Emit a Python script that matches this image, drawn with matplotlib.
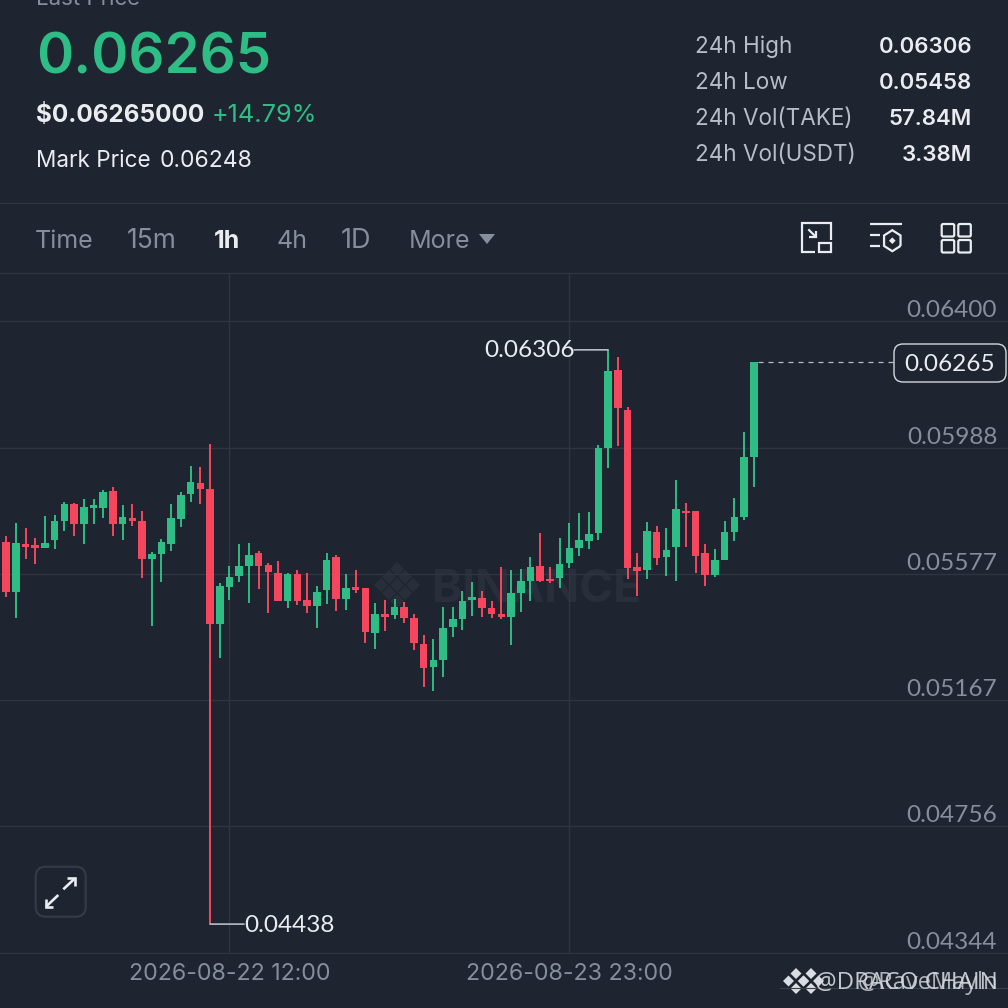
import matplotlib
matplotlib.use("Agg")
import matplotlib.pyplot as plt
import numpy as np
from matplotlib.patches import FancyBboxPatch, Polygon, Rectangle

# 1h candles, prices in 1e-5 USDT (first one is cut by the left edge)
opens = [5675, 5682, 5519, 5674, 5670, 5662, 5688, 5750, 5806, 5740, 5792, 5793, 5848, 5739, 5759, 5748, 5627,
         5642, 5676, 5756, 5837, 5874, 5854, 5414, 5536, 5571, 5603, 5645, 5607, 5581, 5489, 5576, 5491,
         5474, 5525, 5633, 5496, 5534, 5530, 5386, 5447, 5443, 5469, 5434, 5348, 5273, 5298, 5405, 5431,
         5493, 5498, 5466, 5448, 5436, 5515, 5554, 5604, 5561, 5564, 5613, 5661, 5685, 5711, 5987, 6240,
         6111, 5599, 5590, 5715, 5632, 5664, 5782, 5781, 5644, 5574, 5624, 5714, 5761, 5958]
closes = [5686, 5517, 5677, 5665, 5662, 5678, 5750, 5806, 5740, 5796, 5800, 5845, 5741, 5762, 5750, 5627, 5641,
          5682, 5759, 5834, 5876, 5854, 5414, 5537, 5568, 5604, 5640, 5604, 5582, 5489, 5576, 5490, 5474,
          5519, 5623, 5496, 5530, 5524, 5389, 5447, 5438, 5469, 5433, 5352, 5271, 5298, 5400, 5431, 5489,
          5502, 5466, 5448, 5437, 5514, 5553, 5600, 5555, 5554, 5610, 5661, 5687, 5706, 5988, 6238, 6117,
          5598, 5587, 5716, 5628, 5654, 5787, 5775, 5636, 5575, 5622, 5714, 5762, 5957, 6265]
highs = [5700, 5701, 5744, 5726, 5695, 5766, 5770, 5810, 5808, 5820, 5820, 5849, 5861, 5802, 5804, 5781, 5648,
         5690, 5805, 5844, 5929, 5925, 6000, 5549, 5603, 5675, 5678, 5651, 5612, 5619, 5579, 5589, 5579,
         5539, 5645, 5639, 5577, 5589, 5532, 5483, 5492, 5497, 5486, 5446, 5378, 5366, 5469, 5469, 5522,
         5551, 5521, 5489, 5600, 5589, 5592, 5633, 5711, 5599, 5695, 5742, 5774, 5779, 5997, 6306, 6284,
         6119, 5645, 5745, 5733, 5728, 5883, 5807, 5783, 5674, 5657, 5750, 5823, 6038, 6265]
lows = [5660, 5503, 5435, 5625, 5610, 5661, 5659, 5716, 5702, 5674, 5740, 5760, 5700, 5688, 5733, 5564, 5407,
        5551, 5652, 5731, 5810, 5804, 4438, 5302, 5492, 5552, 5483, 5528, 5451, 5488, 5465, 5476, 5449,
        5400, 5480, 5457, 5460, 5515, 5353, 5334, 5393, 5432, 5419, 5331, 5210, 5195, 5242, 5371, 5396,
        5440, 5437, 5435, 5431, 5346, 5454, 5490, 5552, 5547, 5532, 5598, 5635, 5657, 5688, 5921, 5993,
        5562, 5506, 5562, 5606, 5571, 5555, 5666, 5581, 5537, 5566, 5622, 5683, 5752, 5861]

price_ticks = [6400, 5988, 5577, 5167, 4756, 4344]
price_labels = ["0.06400", "0.05988", "0.05577", "0.05167", "0.04756", "0.04344"]
time_ticks = [23, 58]
time_labels = ["2026-08-22 12:00", "2026-08-23 23:00"]
last_price = 6265

stats_names = ["24h High", "24h Low", "24h Vol(TAKE)", "24h Vol(USDT)"]
stats_values = ["0.06306", "0.05458", "57.84M", "3.38M"]
tab_names = ["Time", "15m", "1h", "4h", "1D", "More"]

BG = "#1e2530"
GREEN = "#2ebd85"
RED = "#f6465d"
GRID = "#2e3540"
GRAY = "#848e9c"
LIGHT = "#eaecef"
FAINT = "#292f3a"
NUM = ["Lato", "DejaVu Sans"]

plt.rcParams["font.family"] = ["Inter", "DejaVu Sans"]

fig = plt.figure(figsize=(10.08, 10.08), dpi=100, facecolor=BG)

# watermark sits under the candles
wm = fig.add_axes([0, 0, 1, 1], facecolor=BG, zorder=0)
wm.set_xlim(0, 1008)
wm.set_ylim(1008, 0)
wm.axis("off")
for cx, cy, r in [(397, 569, 7), (397, 585, 7), (381, 585, 7), (413, 585, 7), (397, 601, 7),
                  (389, 577, 7), (405, 577, 7), (389, 593, 7), (405, 593, 7)]:
    wm.add_patch(Polygon([(cx - r, cy), (cx, cy - r), (cx + r, cy), (cx, cy + r)], fc=FAINT, ec="none"))
wm.text(432, 590, "BINANCE", color=FAINT, fontsize=33, fontweight="bold", va="center")

# chart area runs from y=273 to y=953 px
ax = fig.add_axes([0, 1 - 953 / 1008, 1, 680 / 1008], facecolor="none", zorder=1)
ax.set_xlim(-0.63, 103.18)
ax.set_ylim(4344, 6556)

o = np.array(opens)
c = np.array(closes)
h = np.array(highs)
l = np.array(lows)
x = np.arange(len(o)) - 1
colors = [GREEN if ci >= oi else RED for oi, ci in zip(o, c)]

ax.vlines(x, l, h, colors=colors, linewidth=1.4, zorder=3)
ax.bar(x, np.abs(c - o), bottom=np.minimum(o, c), width=0.78, color=colors, zorder=3)

ax.set_xticks(time_ticks, time_labels)
ax.yaxis.tick_right()
ax.set_yticks(price_ticks, price_labels)
ax.tick_params(axis="x", length=0, pad=7.5, labelsize=16.7, labelcolor=GRAY)
ax.tick_params(axis="y", length=0, pad=-7.8, labelsize=17.6, labelcolor=GRAY)
for lab in ax.get_yticklabels():
    lab.set_ha("right")
    lab.set_va("bottom")
    lab.set_family(NUM)
ax.grid(True, color=GRID, linewidth=1)
ax.set_axisbelow(True)
for name, sp in ax.spines.items():
    sp.set_visible(name == "bottom")
    sp.set_color(GRID)

# high / low leaders
leader = dict(arrowstyle="-", color="#b7bdc6", lw=1.2, shrinkA=0, shrinkB=0)
ax.annotate("", xy=(62, 6306), xytext=(-34, 0), textcoords="offset pixels", arrowprops=leader)
ax.annotate("", xy=(21, 4438), xytext=(34, 0), textcoords="offset pixels", arrowprops=leader)
ax.annotate("0.06306", xy=(62, 6306), xytext=(-33, -1), textcoords="offset pixels", ha="right", va="center",
            color=LIGHT, fontsize=17.6, family=NUM)
ax.annotate("0.04438", xy=(21, 4438), xytext=(34, -1), textcoords="offset pixels", ha="left", va="center",
            color=LIGHT, fontsize=17.6, family=NUM)

# last price
ax.plot([77.4, 91.3], [last_price, last_price], color="#b7bdc6", lw=0.9, ls=(0, (4, 4)), zorder=2)

# everything else is laid out in pixels
ui = fig.add_axes([0, 0, 1, 1], facecolor="none", zorder=2)
ui.set_xlim(0, 1008)
ui.set_ylim(1008, 0)
ui.axis("off")

ui.add_patch(FancyBboxPatch((894, 344), 112, 38, boxstyle="round,pad=0,rounding_size=9",
                            fc=BG, ec="#d5d8dc", lw=1))
ui.text(950, 364.5, "0.06265", color=LIGHT, fontsize=17.6, ha="center", va="center", family=NUM)

# header
ui.text(36, -1, "Last Price", color=GRAY, fontsize=16, va="center")
ui.text(36, 58, "0.06265", color=GREEN, fontsize=40.5, fontweight="semibold", va="center")
ui.text(36, 116, "$0.06265000", color=LIGHT, fontsize=17.5, fontweight="bold", va="center")
ui.text(212, 116, "+14.79%", color=GREEN, fontsize=18.2, va="center")
ui.text(36, 161, "Mark Price", color=LIGHT, fontsize=16.2, va="center")
ui.text(160, 161, "0.06248", color=LIGHT, fontsize=16.5, va="center")

for yy, name, val in zip([47, 83, 119, 155], stats_names, stats_values):
    ui.text(695, yy, name, color="#b7bdc6", fontsize=16.2, va="center")
    ui.text(972, yy, val, color=LIGHT, fontsize=16, fontweight="semibold", ha="right", va="center")

ui.plot([0, 1008], [203, 203], color=GRID, lw=1)
ui.plot([0, 1008], [273, 273], color=GRID, lw=1)

for xx, name, fs in zip([35, 127, 214, 276, 341, 409], tab_names, [18, 19, 18, 18, 19.5, 18]):
    active = name == "1h"
    ui.text(xx, 241, name, color=LIGHT if active else GRAY, fontsize=fs,
            fontweight="bold" if active else "normal", va="center")
ui.add_patch(Polygon([(479, 234), (495, 234), (487, 244)], fc=GRAY, ec="none"))

# toolbar icons
ICON = dict(color=LIGHT, lw=1.6, solid_capstyle="butt", solid_joinstyle="miter")
ui.plot([830.7, 830.7, 801.7, 801.7, 815], [240, 223.3, 223.3, 251.7, 251.7], **ICON)
ui.add_patch(Rectangle((819, 242.7), 11.7, 9, fc="none", ec=LIGHT, lw=1.6))
ui.plot([808.3, 816], [229.3, 237], **ICON)
ui.plot([808.5, 816, 816], [237, 237, 230.5], **ICON)

ui.plot([870, 901.7], [224, 224], **ICON)
ui.plot([870, 880], [235, 235], **ICON)
ui.plot([870, 880], [246, 246], **ICON)
ang = np.deg2rad(np.arange(30, 391, 60))
ui.plot(892.3 + 9.5 * np.cos(ang), 240.7 + 10.5 * np.sin(ang), **ICON)
ui.add_patch(Polygon([(889, 240.7), (892.3, 237.4), (895.6, 240.7), (892.3, 244)], fc=LIGHT, ec="none"))

for xx, yy in [(941.7, 224), (958.3, 224), (941.7, 240), (958.3, 240)]:
    ui.add_patch(FancyBboxPatch((xx, yy), 12.5, 12.5, boxstyle="round,pad=0,rounding_size=1.5",
                                fc="none", ec=LIGHT, lw=1.6))

# expand button
ui.add_patch(FancyBboxPatch((35.7, 866.7), 50, 50, boxstyle="round,pad=0,rounding_size=10",
                            fc=BG, ec="#343a46", lw=1.6))
ARROW = dict(color=LIGHT, lw=1.9, solid_capstyle="butt", solid_joinstyle="miter")
ui.plot([63.3, 75], [889.3, 878.3], **ARROW)
ui.plot([67.3, 75, 75], [878.3, 878.3, 885.7], **ARROW)
ui.plot([58.3, 46], [895, 906.7], **ARROW)
ui.plot([46, 46, 53.3], [899.3, 906.7, 906.7], **ARROW)

# overlaid watermarks, bottom right
ui.plot([780, 1008], [988, 988], color="#3a404b", lw=0.8)
for cx in [796, 811]:
    for dx, dy in [(-7.5, 0), (0, -7.5), (7.5, 0), (0, 7.5)]:
        ui.add_patch(Polygon([(cx + dx - 5.5, 981 + dy), (cx + dx, 975.5 + dy), (cx + dx + 5.5, 981 + dy),
                              (cx + dx, 986.5 + dy)], fc="#d9dce0", ec="none"))
ui.text(998, 983, "@DRACO CHAIN", color="#d5d8dc", fontsize=17.4, ha="right", va="center", alpha=0.9,
        family=["Open Sans", "DejaVu Sans"])
ui.text(998, 983, "@RaveMayln", color="#d5d8dc", fontsize=17, ha="right", va="center", alpha=0.8,
        family=["Open Sans", "DejaVu Sans"])

fig.savefig("out.png", dpi=100, facecolor=BG)
